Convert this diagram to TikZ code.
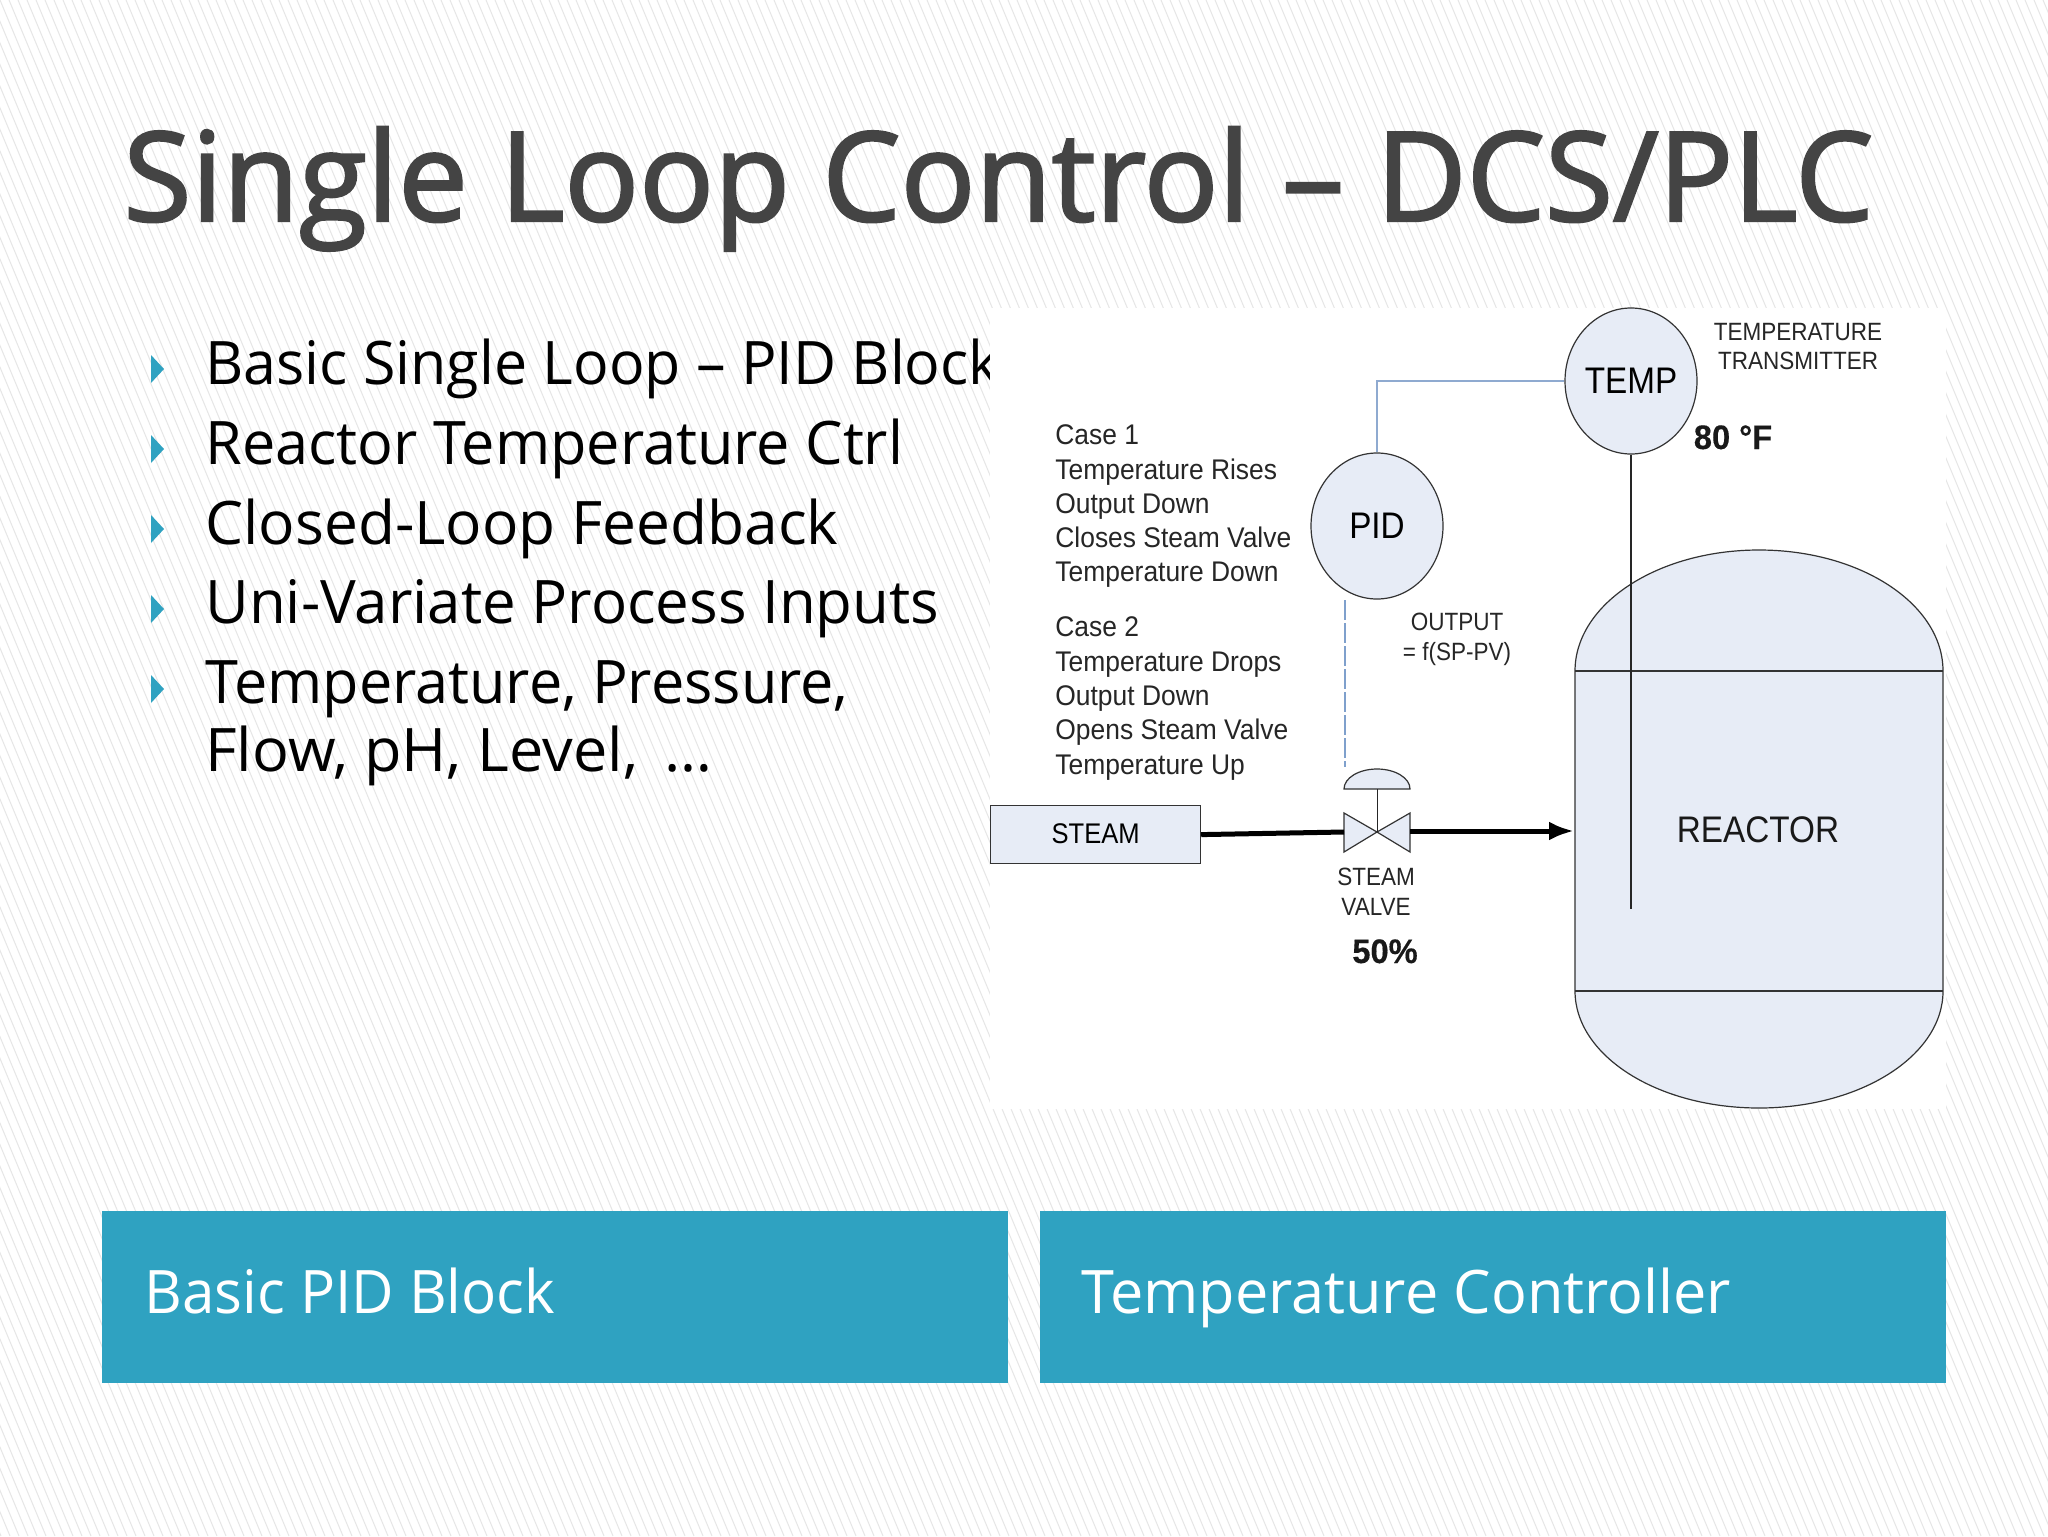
\documentclass[tikz,border=0pt]{standalone}
\usepackage{fontspec}
\setmainfont{Open Sans}
\newfontfamily\titlef[FakeBold=2]{Open Sans}
\newfontfamily\bodya[FakeStretch=0.985]{Open Sans}
\newfontfamily\bodyb[FakeStretch=0.99]{Open Sans}
\newfontfamily\bodyc[FakeStretch=1.02]{Open Sans}
\newfontfamily\bodyd[FakeStretch=1.0]{Open Sans}
\newfontfamily\bodye[FakeStretch=1.007]{Open Sans}
\newfontfamily\bana[FakeStretch=0.972]{Open Sans}
\newfontfamily\banb[FakeStretch=0.99]{Open Sans}
\newfontfamily\arialf[FakeStretch=0.93]{Liberation Sans}
\newfontfamily\arialg[FakeStretch=0.9]{Liberation Sans}
\newfontfamily\arialb[FakeStretch=0.96,FakeBold=0.3]{Liberation Sans}
\definecolor{hatch}{HTML}{E6E6E6}
\definecolor{titlegrey}{HTML}{444444}
\definecolor{teal}{HTML}{2FA2C1}
\definecolor{pale}{HTML}{E7ECF6}
\definecolor{signal}{HTML}{8FAAD0}
\definecolor{dashblue}{HTML}{7FA0CC}
\tikzset{
  x=0.5pt,y=-0.5pt,
  pagetext/.style={anchor=base west,inner sep=0pt,text=black},
  titletext/.style={anchor=base west,inner sep=0pt,font=\titlef\fontsize{62}{70}\selectfont},
  bannerbox/.style={fill=teal,draw=none,minimum width=453pt,minimum height=86pt,inner sep=0pt,anchor=north west},
  bannertext/.style={anchor=base west,inner sep=0pt,text=white},
  bullet/.style={fill=teal,draw=none},
  equip/.style={fill=pale,draw=black!80,line width=0.6pt},
  round/.style={ellipse,fill=pale,draw=black!80,line width=0.6pt,minimum width=66pt,minimum height=73pt,inner sep=0pt,font=\arialg\fontsize{18.5}{20}\selectfont},
  small/.style={anchor=base west,inner sep=0pt,text=black!85,font=\arialf\fontsize{14.2}{16}\selectfont},
  smallc/.style={anchor=base,inner sep=0pt,text=black!85,font=\arialg\fontsize{12.5}{14}\selectfont},
  boldc/.style={anchor=base,inner sep=0pt,text=black!90,font=\arialb\bfseries\fontsize{17}{20}\selectfont},
  pipe/.style={line width=2.5pt,black},
}
\usetikzlibrary{shapes.geometric,arrows.meta}
\begin{document}
\begin{tikzpicture}
\useasboundingbox (0,0) rectangle (2048,1536);
\fill[white] (0,0) rectangle (2048,1536);
\begin{scope}
\clip (0,0) rectangle (2048,1536);
\foreach \k in {-80,...,240}{
  \draw[hatch,line width=0.5pt] ({\k*9},0) -- ({\k*9+640},1536);
}
\end{scope}
% title
\node[titletext,text=titlegrey] (title) at (123,221) {Single Loop Control – DCS/PLC};
% bullets
\foreach \y in {369,449,529,609,689}{
  \fill[bullet] (151,\y-14) -- (164,\y) -- (151,\y+14) -- cycle;
}
\node[pagetext,font=\bodya\fontsize{30}{36}\selectfont] (b1) at (205,384) {Basic Single Loop – PID Block};
\node[pagetext,font=\bodyb\fontsize{30}{36}\selectfont] (b2) at (205,464) {Reactor Temperature Ctrl};
\node[pagetext,font=\bodye\fontsize{30}{36}\selectfont] (b3) at (205,544) {Closed-Loop Feedback};
\node[pagetext,font=\bodyd\fontsize{30}{36}\selectfont] (b4) at (205,623) {Uni-Variate Process Inputs};
\node[pagetext,font=\bodyb\fontsize{30}{36}\selectfont] (b5) at (205,703) {Temperature, Pressure,};
\node[pagetext,font=\bodyc\fontsize{30}{36}\selectfont] (b6) at (205,771) {Flow, pH, Level,\ \,\ldots};
% white picture panel
\fill[white] (990,308) rectangle (1946,1109);
% vessel
\path[equip] (1575,671) arc[start angle=180,end angle=360,x radius=184,y radius=121] -- (1943,991) arc[start angle=0,end angle=180,x radius=184,y radius=117] -- cycle;
\draw[equip,fill=none] (1575,671) -- (1943,671);
\draw[equip,fill=none] (1575,991) -- (1943,991);
\node[inner sep=0pt,font=\arialg\fontsize{18.5}{20}\selectfont,text=black!90] (reactor) at (1758,830) {REACTOR};
% instruments
\node[round] (temp) at (1631,381) {\makebox[0pt]{TEMP}};
\node[round] (pid) at (1377,526) {\makebox[0pt]{PID}};
\coordinate (probe) at (1631,909);
\draw[black!85,line width=0.7pt] (temp.south) -- (probe);
\draw[signal,line width=0.8pt] (temp.west) -| (pid.north);
% steam box and valve
\node[equip,anchor=north west,minimum width=105pt,minimum height=29pt,inner sep=0pt,font=\arialg\fontsize{14.2}{16}\selectfont] (steam) at (990,805) {\raisebox{1pt}{STEAM}};
\coordinate (vc) at (1377,832);
\path[equip] (1344,813) -- (1377,832) -- (1344,852) -- cycle;
\path[equip] (1410,813) -- (1377,832) -- (1410,852) -- cycle;
\path[equip] (1344,789) arc[start angle=180,end angle=360,x radius=33,y radius=20] -- cycle;
\coordinate (act) at (1377,789);
\coordinate (vl) at (1344,832);
\coordinate (vr) at (1410,831);
\coordinate (act2) at (1345,767);
\coordinate (pidb) at (1345,600);
\draw[black!85,line width=0.5pt] (act) -- (vc);
\draw[dashblue,line width=0.6pt,dash pattern=on 10pt off 1.5pt] (pidb) -- (act2);
\draw[pipe] (steam.east) -- (vl);
\draw[pipe,-{Latex[length=12.5pt,width=9.5pt]}] (vr) -- (1574,831);
% labels
\node[small] (c1) at (1055,444) {Case 1};
\node[small] (c2) at (1055,479) {Temperature Rises};
\node[small] (c3) at (1055,513) {Output Down};
\node[small] (c4) at (1055,547) {Closes Steam Valve};
\node[small] (c5) at (1055,581) {Temperature Down};
\node[small] (d1) at (1055,636) {Case 2};
\node[small] (d2) at (1055,671) {Temperature Drops};
\node[small] (d3) at (1055,705) {Output Down};
\node[small] (d4) at (1055,739) {Opens Steam Valve};
\node[small] (d5) at (1055,774) {Temperature Up};
\node[smallc] (tt1) at (1798,340) {TEMPERATURE};
\node[smallc] (tt2) at (1798,369) {TRANSMITTER};
\node[boldc] (f80) at (1733,449) {80 °F};
\node[smallc] (o1) at (1457,630) {OUTPUT};
\node[smallc] (o2) at (1457,660) {= f(SP-PV)};
\node[smallc] (v1) at (1376,885) {STEAM};
\node[smallc] (v2) at (1376,915) {VALVE};
\node[boldc] (pct) at (1385,963) {50\%};
% banners
\node[bannerbox] (left) at (102,1211) {};
\node[bannerbox] (right) at (1040,1211) {};
\node[bannertext,font=\bana\fontsize{30}{36}\selectfont] (lt) at (144,1313) {Basic PID Block};
\node[bannertext,font=\banb\fontsize{30}{36}\selectfont] (rt) at (1081,1313) {Temperature Controller};
\end{tikzpicture}
\end{document}
